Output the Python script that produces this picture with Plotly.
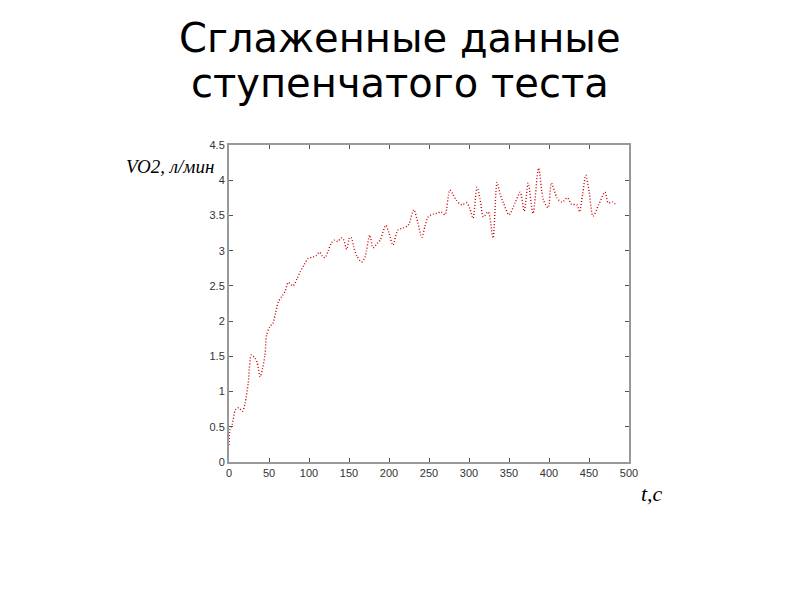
import plotly.graph_objects as go

t_sec = [0, 1, 4, 8, 12, 17, 20, 24, 28, 32, 35, 39, 42, 45, 47, 51, 55, 58, 62, 66,
         70, 74, 80, 85, 89, 94, 99, 105, 109, 113, 117, 120, 124, 128, 132, 136, 140,
         143, 147, 151, 153, 156, 160, 166, 170, 176, 180, 185, 189, 196, 200, 205,
         211, 217, 224, 231, 236, 241, 245, 249, 255, 260, 265, 270, 276, 280, 284,
         291, 297, 301, 305, 310, 314, 318, 324, 330, 335, 339, 343, 350, 358, 364,
         369, 374, 380, 387, 393, 399, 403, 410, 416, 423, 428, 435, 438, 442, 446,
         450, 455, 462, 470, 474, 480, 484]
vo2 = [0.24, 0.45, 0.53, 0.74, 0.77, 0.72, 0.83, 1.12, 1.52, 1.48, 1.42, 1.21, 1.33,
       1.52, 1.80, 1.92, 1.97, 2.11, 2.28, 2.35, 2.42, 2.55, 2.50, 2.60, 2.70, 2.80,
       2.89, 2.91, 2.93, 2.98, 2.92, 2.90, 3.00, 3.11, 3.15, 3.13, 3.18, 3.16, 3.02,
       3.19, 3.18, 3.05, 2.92, 2.84, 2.91, 3.22, 3.04, 3.10, 3.15, 3.36, 3.25, 3.08,
       3.29, 3.32, 3.36, 3.58, 3.40, 3.19, 3.35, 3.48, 3.52, 3.53, 3.55, 3.51, 3.86,
       3.80, 3.72, 3.65, 3.68, 3.60, 3.46, 3.90, 3.72, 3.48, 3.55, 3.18, 3.97, 3.80,
       3.68, 3.51, 3.69, 3.83, 3.56, 3.96, 3.53, 4.17, 3.72, 3.61, 3.96, 3.75, 3.69,
       3.75, 3.66, 3.65, 3.55, 3.80, 4.07, 3.85, 3.49, 3.65, 3.83, 3.68, 3.69, 3.64]

x_ticks = [0, 50, 100, 150, 200, 250, 300, 350, 400, 450, 500]
y_ticks = [0, 0.5, 1, 1.5, 2, 2.5, 3, 3.5, 4, 4.5]
y_tick_text = ["0", "0.5", "1", "1.5", "2", "2.5", "3", "3.5", "4", "4.5"]

fig = go.Figure()
fig.add_trace(go.Scatter(
    x=t_sec, y=vo2, mode="lines",
    line=dict(color="rgb(200,0,0)", width=1.4, dash="1px,2px", shape="spline", smoothing=0.8),
    showlegend=False, hoverinfo="skip"))

axis_common = dict(
    showgrid=False, zeroline=False, showline=True, linecolor="#999999", linewidth=2,
    mirror="ticks", ticks="inside", ticklen=4, tickcolor="#555555", tickwidth=1,
    tickfont=dict(family="Liberation Sans, Arial", size=11, color="#333333"),
    automargin=False,
)

# page has an 8px body offset; margins chosen so the plot box lands at x 229-629, y 145-462
fig.update_layout(
    width=800, height=600,
    paper_bgcolor="white", plot_bgcolor="white",
    margin=dict(l=221, r=179, t=137, b=146),
    xaxis=dict(range=[0, 500], tickvals=x_ticks, ticktext=[str(v) for v in x_ticks], **axis_common),
    yaxis=dict(range=[0, 4.5], tickvals=y_ticks, ticktext=y_tick_text, **axis_common),
)

pw, ph = 400, 317
def px(xp):
    return (xp - 229) / pw
def py(yp):
    return (462 - yp) / ph

fig.add_annotation(text="Сглаженные данные", x=px(400), y=py(38), xref="paper", yref="paper",
                   showarrow=False, xanchor="center", yanchor="middle",
                   font=dict(family="DejaVu Sans", size=40, color="#000000"))
fig.add_annotation(text="ступенчатого теста", x=px(400), y=py(83), xref="paper", yref="paper",
                   showarrow=False, xanchor="center", yanchor="middle",
                   font=dict(family="DejaVu Sans", size=40, color="#000000"))
fig.add_annotation(text="<i>VO2, л/мин</i>", x=px(216), y=py(166), xref="paper", yref="paper",
                   showarrow=False, xanchor="right", yanchor="middle",
                   font=dict(family="Liberation Serif", size=19, color="#000000"))
fig.add_annotation(text="<i>t,c</i>", x=px(639), y=py(493), xref="paper", yref="paper",
                   showarrow=False, xanchor="left", yanchor="middle",
                   font=dict(family="Liberation Serif", size=22, color="#000000"))

fig.write_html("out.html")
